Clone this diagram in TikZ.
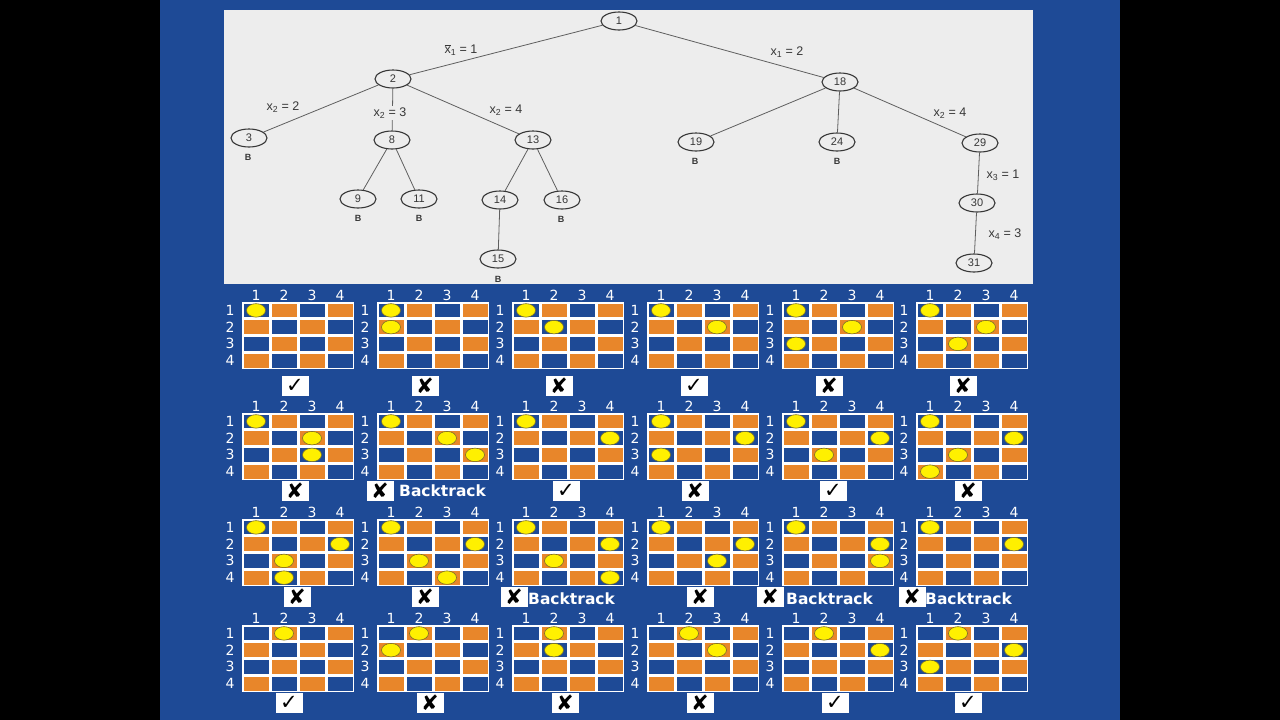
\documentclass[tikz,border=0pt]{standalone}
\usepackage{fontspec}
\setmainfont{DejaVu Sans}
\newfontfamily\treefont{Liberation Sans}
\usetikzlibrary{shapes.geometric}
\definecolor{slideblue}{RGB}{30,74,150}
\definecolor{cellorange}{RGB}{232,134,42}
\definecolor{queenyellow}{RGB}{255,240,0}
\definecolor{queenedge}{RGB}{120,110,40}
\definecolor{panelgray}{RGB}{237,237,237}
\definecolor{treeink}{RGB}{55,55,55}
\tikzset{
  lbl/.style={text=white, font=\fontsize{14}{14}\selectfont, inner sep=0pt},
  queen/.style={ellipse, minimum width=19pt, minimum height=13.5pt, inner sep=0pt, fill=queenyellow, draw=queenedge, line width=0.6pt},
  markbox/.style={fill=white, minimum width=27pt, minimum height=20pt, inner sep=0pt, font=\fontsize{21}{21}\selectfont, text=black},
  btext/.style={text=white, font=\bfseries\fontsize{15.5}{15.5}\selectfont, inner sep=0pt, anchor=west},
  tn/.style={ellipse, draw=treeink, line width=1.1pt, minimum width=36pt, minimum height=18pt, inner sep=0pt, font=\treefont\fontsize{11}{11}\selectfont, text=treeink},
  te/.style={draw=treeink!80, line width=0.8pt},
  el/.style={font=\treefont\fontsize{12.5}{12.5}\selectfont, text=treeink, inner sep=1pt},
  bl/.style={font=\treefont\bfseries\fontsize{9}{9}\selectfont, text=treeink, inner sep=0pt},
}
\newcommand\qboard[3]{%
  \begin{scope}[shift={(#1,#2)}]
    \fill[white] (0,0) rectangle (112,67);
    \foreach \r in {1,...,4}{
      \foreach \c in {1,...,4}{
        \pgfmathtruncatemacro\cpar{mod(\r+\c,2)}
        \ifnum\cpar=1 \def\cc{cellorange}\else\def\cc{slideblue}\fi
        \fill[\cc] ({(\c-1)*28+1.5},{(\r-1)*16.75+1.5}) rectangle ({\c*28-1.5},{\r*16.75-1.5});
      }
      \node[lbl] at (-12,{(\r-0.5)*16.75}) {\r};
      \node[lbl] at ({(\r-0.5)*28},-7) {\r};
    }
    \foreach \qr/\qc in {#3}{
      \node[queen] at ({(\qc-0.5)*28},{(\qr-0.5)*16.75}) {};
    }
  \end{scope}}
\begin{document}
\begin{tikzpicture}[x=1pt, y=-1pt]
\useasboundingbox (0,0) rectangle (1280,720);
\fill[black] (0,0) rectangle (1280,720);
\fill[slideblue] (160,0) rectangle (1120,720);
% tree panel
\fill[panelgray] (224,10) rectangle (1033,284);
\node[tn] (n1) at (619,21) {1};
\node[tn] (n2) at (393,79) {2};
\node[tn] (n18) at (840,82) {18};
\node[tn] (n3) at (249,138) {3};
\node[tn] (n8) at (392,140) {8};
\node[tn] (n13) at (533,140) {13};
\node[tn] (n19) at (696,142) {19};
\node[tn] (n24) at (837,142) {24};
\node[tn] (n29) at (980,143) {29};
\node[tn] (n9) at (358,199) {9};
\node[tn] (n11) at (419,199) {11};
\node[tn] (n14) at (500,200) {14};
\node[tn] (n16) at (562,200) {16};
\node[tn] (n15) at (498,259) {15};
\node[tn] (n30) at (977,203) {30};
\node[tn] (n31) at (974,263) {31};
\draw[te] (n1) -- (n2);
\draw[te] (n1) -- (n18);
\draw[te] (n2) -- (n3);
\draw[te] (n2) -- (n8);
\draw[te] (n2) -- (n13);
\draw[te] (n18) -- (n19);
\draw[te] (n18) -- (n24);
\draw[te] (n18) -- (n29);
\draw[te] (n8) -- (n9);
\draw[te] (n8) -- (n11);
\draw[te] (n13) -- (n14);
\draw[te] (n13) -- (n16);
\draw[te] (n14) -- (n15);
\draw[te] (n29) -- (n30);
\draw[te] (n30) -- (n31);
\node[el] (l1) at (461,50) {$\overline{\hbox{x}}$\textsubscript{1} = 1};
\node[el] (l2) at (787,52) {x\textsubscript{1} = 2};
\node[el] (l3) at (283,107) {x\textsubscript{2} = 2};
\node[el, fill=panelgray, inner sep=2pt] (l4) at (390,113) {x\textsubscript{2} = 3};
\node[el] (l5) at (506,110) {x\textsubscript{2} = 4};
\node[el] (l6) at (950,113) {x\textsubscript{2} = 4};
\node[el] (l7) at (1003,175) {x\textsubscript{3} = 1};
\node[el] (l8) at (1005,234) {x\textsubscript{4} = 3};
\node[bl] (b3) at (248,157) {B};
\node[bl] (b9) at (358,218) {B};
\node[bl] (b11) at (419,218) {B};
\node[bl] (b16) at (561,219) {B};
\node[bl] (b15) at (498,279) {B};
\node[bl] (b19) at (695,161) {B};
\node[bl] (b24) at (837,161) {B};
% row 1
\qboard{242}{302}{1/1}
\qboard{377}{302}{1/1,2/1}
\qboard{512}{302}{1/1,2/2}
\qboard{647}{302}{1/1,2/3}
\qboard{782}{302}{1/1,2/3,3/1}
\qboard{916}{302}{1/1,2/3,3/2}
\node[markbox] (m11) at (295,386) {✓};
\node[markbox] (m12) at (425,386) {✘};
\node[markbox] (m13) at (559,386) {✘};
\node[markbox] (m14) at (694,386) {✓};
\node[markbox] (m15) at (829,386) {✘};
\node[markbox] (m16) at (963,386) {✘};
% row 2
\qboard{242}{413}{1/1,2/3,3/3}
\qboard{377}{413}{1/1,2/3,3/4}
\qboard{512}{413}{1/1,2/4}
\qboard{647}{413}{1/1,2/4,3/1}
\qboard{782}{413}{1/1,2/4,3/2}
\qboard{916}{413}{1/1,2/4,3/2,4/1}
\node[markbox] (m21) at (295,491) {✘};
\node[markbox] (m22) at (380,491) {✘};
\node[btext] (t22) at (399,491) {Backtrack};
\node[markbox] (m23) at (566,491) {✓};
\node[markbox] (m24) at (695,491) {✘};
\node[markbox] (m25) at (833,491) {✓};
\node[markbox] (m26) at (968,491) {✘};
% row 3
\qboard{242}{519}{1/1,2/4,3/2,4/2}
\qboard{377}{519}{1/1,2/4,3/2,4/3}
\qboard{512}{519}{1/1,2/4,3/2,4/4}
\qboard{647}{519}{1/1,2/4,3/3}
\qboard{782}{519}{1/1,2/4,3/4}
\qboard{916}{519}{1/1,2/4}
\node[markbox] (m31) at (297,597) {✘};
\node[markbox] (m32) at (425,597) {✘};
\node[markbox] (m33) at (514,597) {✘};
\node[btext] (t33) at (528,599) {Backtrack};
\node[markbox] (m34) at (700,597) {✘};
\node[markbox] (m35) at (770,597) {✘};
\node[btext] (t35) at (786,599) {Backtrack};
\node[markbox] (m36) at (912,597) {✘};
\node[btext] (t36) at (925,599) {Backtrack};
% row 4
\qboard{242}{625}{1/2}
\qboard{377}{625}{1/2,2/1}
\qboard{512}{625}{1/2,2/2}
\qboard{647}{625}{1/2,2/3}
\qboard{782}{625}{1/2,2/4}
\qboard{916}{625}{1/2,2/4,3/1}
\node[markbox] (m41) at (289,703) {✓};
\node[markbox] (m42) at (430,703) {✘};
\node[markbox] (m43) at (565,703) {✘};
\node[markbox] (m44) at (700,703) {✘};
\node[markbox] (m45) at (835,703) {✓};
\node[markbox] (m46) at (968,703) {✓};
\end{tikzpicture}
\end{document}
